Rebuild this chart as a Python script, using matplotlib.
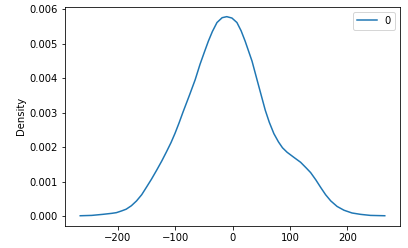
import matplotlib
matplotlib.use("Agg")
import matplotlib.pyplot as plt

# density curve (kde of column 0)
xs = [-265, -245, -226, -210, -202, -193, -185, -176, -167, -158, -150, -141, -132, -123,
      -115, -107, -100, -93, -86, -75, -65, -56.5, -49, -42, -35, -27, -18, -10, -1, 7.7,
      15, 22, 28, 34, 42.7, 50, 57, 64, 72, 80, 87, 95, 107, 118.5, 128, 136, 145, 153.5,
      162, 171, 182, 194, 208, 223, 240, 265]
dens = [0.00001, 0.00002, 0.00005, 0.00008, 0.0001, 0.00015, 0.0002, 0.0003, 0.00044,
        0.00062, 0.00083, 0.00107, 0.00133, 0.0016, 0.00186, 0.00213, 0.0024, 0.0027,
        0.00302, 0.0035, 0.00395, 0.0044, 0.00475, 0.00507, 0.00535, 0.00561, 0.00575,
        0.00578, 0.00574, 0.00561, 0.00537, 0.00507, 0.00478, 0.00449, 0.00395, 0.0035,
        0.00307, 0.00272, 0.00239, 0.00215, 0.00198, 0.00185, 0.0017, 0.00156, 0.0014,
        0.00126, 0.00105, 0.00083, 0.00062, 0.00044, 0.00028, 0.00017, 0.00009, 0.00005,
        0.00002, 0.00001]

fig = plt.figure(figsize=(408/72, 248/72), dpi=72)
ax = fig.add_axes([65/408, 22.3/248, 335/408, 219/248])
ax.plot(xs, dens, color='#1f77b4', label='0')
ax.set_ylabel('Density')
ax.legend(loc='upper right')
ax.set_xticks([-200, -100, 0, 100, 200])
fig.savefig('out.png', dpi=72)
